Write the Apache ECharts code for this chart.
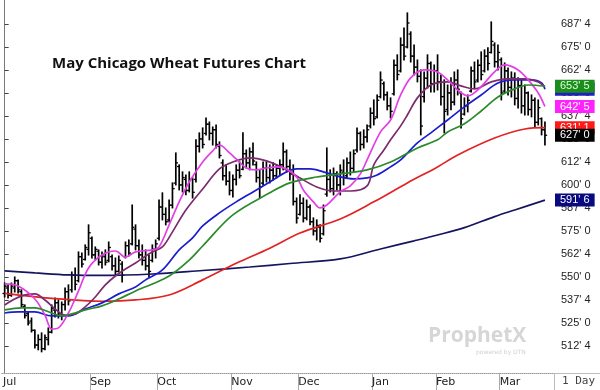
<!DOCTYPE html>
<html><head><meta charset="utf-8">
<script src="https://cdn.jsdelivr.net/npm/echarts@6/dist/echarts.min.js"></script>
<style>html,body{margin:0;padding:0;background:#fff}#c{width:600px;height:390px}</style>
</head><body><div id="c"></div>
<script>
// ---- data ----
const monthNames = ['Jul','Sep','Oct','Nov','Dec','Jan','Feb','Mar'];
const monthStartBar = [0,26,46,68,88,110,129,148];
const yTickValues = [512.5,525,537.5,550,562.5,575,587.5,600,612.5,625,637.5,650,662.5,675,687.5];

const opens  = [541,544,540,544,548,542,534,530,526,521,513,516,511,516,520,532,536,530,535,542,543,551,548,561,559.5,565,571,562,564,558,561,559,561,556,553,557,561,567,568,576,567,562,559,556,559,565,571,588,584,581,589,601,610,600,603,597,603,603,621,625,628,633,628,630,621,612,605,602,597,603,608,608.5,617,612,618,611,604,601,609,604,608,605,609,611,618,610,606,591,584,590,582,588,580,575,577,573.5,595,603,598,606,600,607,605,612,609,619,628,622,626,632,639,637,648,655,649,643,649.5,665,662,676,675,682,670,664,659,648,658,666,655,662,656,648,641,650,645,657,650,638.5,643,651,662,657,665,662,670,672,676,667,668,651,662,653,658,647,654,643,650,641,646,634,636,630];
const highs  = [546.7,545.7,546.7,550,548.4,543,534.8,531,527.7,521.2,518.5,519.6,518.5,522.3,534.8,538.6,537.5,536.4,544,545.7,552.7,554.9,563.6,563,567.4,578.3,571.7,566.3,564.7,563.6,564.7,569,561.9,560.3,561.4,558.2,569,570.1,589.1,578.3,570.1,567.4,564.7,561.9,567.4,570.1,591.8,595.7,587.5,591.8,601.1,617.4,610.9,607.1,605.4,607.1,603.8,624.5,628.3,631,636.4,634.2,631.5,632.6,623.4,613.6,610.9,607.1,605.4,610.9,612.5,628.3,619,620.1,622.8,612.5,608.2,612.5,612.5,610.9,612,610.9,613.6,622.8,619,613.6,610.9,592.9,594.6,592.9,591.8,589.1,582.1,581,578.3,589.1,620.1,608.2,609.2,607.1,610.9,613.6,614.7,617.9,619,631,628.8,629.9,632.6,641.8,646.2,648.9,661.4,656,650.5,647.3,667.9,670.7,679.9,685.3,693.5,683.2,676.1,667.9,662.5,661.4,670.7,666.8,665.2,670.7,659.8,657.1,654.3,658.2,661.4,662.5,650.5,647.3,648.9,664.1,666.8,667.9,672.3,673.4,674.5,688.6,677.2,676.1,669,666.3,663.6,661.4,660.9,658.2,657.1,654.3,650.5,648.9,647.3,646.2,636.4,634.2];
const lows   = [539.1,538.6,539.5,541.8,541.3,533.7,527.7,523.9,520.1,511.4,510.4,509.3,510.4,513.1,519.6,528.3,527.7,526.7,532.1,534.8,541.8,543,547.3,555.4,559.2,561.9,560.3,559.2,556.5,554.9,556.5,558.2,553.8,551.1,552.7,547.3,560.3,561.4,567.4,564.7,560.3,556.5,553.8,550,558.2,560.3,570.1,581,578.3,579.9,587.5,600,597.3,596.2,594.6,596.2,592.9,601.6,617.9,620.1,627.2,624.5,621.7,620.1,614.7,602.7,600,594.6,593.5,600,603.8,608.2,609.2,608.2,610.9,601.6,592.9,600,601.6,601.1,602.7,603.8,605.4,608.2,607.1,602.7,589.1,579.3,583.7,579.9,581,578.3,572.8,570.1,569,572.8,593.9,596.2,594.6,597.3,594.6,600,603.8,605.4,607.1,617.9,619,620.1,623.4,631,632.6,636.4,647.3,646.2,640.8,636.4,648.9,657.1,661.4,667.9,674.5,666.8,659.8,656,627.2,645.1,652.7,650.5,650.5,651.6,643.5,628.3,638,640.8,643.5,648.9,631,638,639.7,650.5,652.7,656,657.1,661.4,662.5,671.7,664.1,662.5,646.2,650,648.9,647.8,643.5,641.8,639.1,638,638,637,631.5,632.6,627.2,621.7];
const closes = [545,540,545,548,543,535,529,525,521,513,516,511,517,520,533,536,530,535,542,537,551,546,561,557,566,574,562,565,558,562,558,566,556,553,559,551,567,563,577,567,562,559,556,553,565,568,588,584,580,589,598,612,600,604,597,603,596,621,625,622,633,628,630,622,616,605,602,597,603,608,605,617,612,618,613,604,599,609,604,608,605,609,611,618,610,606,591,582,590,582,588,580,575,578,571,586,603,598,606,600,608,604,612,609,617,628,622,626,630,639,636,646,657,649,643,640,665,660,676,670,688,670,664,659,632,658,666,655,662,656,648,640,650,645,657,652,636,643,646,662,656,665,660,670,666,678,667,672,650,662,653,658,647,654,643,650,641,646,634,642,630,627];

// moving averages, sampled as [bar index, value]
const maShort  = [[0,546.2],[4,545.1],[9,538.0],[12,529.3],[14,521.7],[16,522.3],[19,530.4],[22,542.4],[25,554.9],[29,561.9],[33,564.1],[36,560.8],[39,563.6],[44,564.7],[46,566.3],[49,578.3],[52,590.8],[55,601.6],[59,612.5],[62,618.5],[64,621.7],[67,617.4],[69,614.1],[72,609.2],[75,608.2],[78,609.2],[81,609.8],[84,608.7],[87,604.3],[89,597.3],[92,590.8],[94,587.5],[96,589.1],[100,596.2],[103,599.5],[106,606.0],[108,613.6],[112,628.8],[115,635.3],[118,648.9],[121,658.2],[125,662.5],[129,661.4],[132,657.1],[135,651.6],[138,648.4],[141,651.6],[146,661.4],[149,665.2],[153,662.5],[156,657.1],[159,650.0],[161,642.625]];
const maMid    = [[0,534.8],[5,539.7],[9,540.8],[12,537.5],[15,532.6],[18,529.3],[21,529.9],[24,533.7],[27,539.1],[30,545.7],[33,550.5],[36,554.3],[39,557.6],[42,561.4],[44,563.6],[47,566.3],[50,574.5],[54,586.4],[59,597.8],[64,608.7],[68,612.5],[73,614.7],[78,613.1],[83,609.2],[88,603.8],[93,598.9],[98,596.7],[103,596.7],[108,599.5],[110,610.9],[113,619.0],[115,624.5],[118,632.1],[120,638.0],[123,647.3],[127,654.3],[132,656.0],[136,653.8],[140,652.2],[145,656.0],[150,657.6],[155,657.6],[159,656.0],[161,653.3]];
const maBlue   = [[0,530.4],[4,531.0],[9,531.0],[14,528.8],[19,528.8],[24,532.6],[29,535.9],[34,540.8],[39,544.6],[42,548.4],[47,553.8],[52,564.7],[56,571.2],[59,577.7],[64,584.8],[69,590.8],[74,596.2],[79,601.6],[84,607.1],[87,608.7],[91,608.7],[95,607.1],[100,604.4],[104,603.3],[108,603.8],[111,605.4],[115,609.8],[118,613.6],[123,622.8],[127,628.3],[132,635.3],[137,642.4],[142,648.9],[147,655.4],[152,657.1],[157,657.1],[160,655.4],[161,652.0]];
const maGreen  = [[0,532.1],[5,533.2],[9,533.2],[14,530.4],[17,528.8],[20,529.9],[24,532.1],[29,534.3],[34,538.0],[39,542.4],[44,546.2],[49,550.5],[55,559.2],[59,566.8],[68,583.7],[79,595.7],[85,601.1],[93,604.3],[100,606.0],[108,608.2],[115,612.5],[123,620.1],[129,624.5],[132,628.8],[137,633.2],[142,640.2],[147,647.8],[152,652.2],[156,654.3],[161,653.625]];
const maRed    = [[0,541.1],[14,538.4],[29,536.8],[39,537.5],[49,540.2],[59,548.4],[69,557.4],[79,565.6],[88,573.9],[100,581.5],[110,590.8],[120,601.1],[129,609.8],[135,616.3],[146,625.5],[155,630.4],[161,631.125]];
const maNavy   = [[0,553.3],[9,552.2],[19,551.1],[29,550.8],[44,551.6],[59,553.5],[73,555.4],[85,557.3],[100,559.8],[112,565.2],[122,569.6],[129,572.8],[137,576.8],[146,582.8],[152,586.4],[161,591.75]];

// ---- chart ----
function fmt(v){const f=Math.floor(v+1e-9);return f+"' "+Math.round((v-f)*8);}
const ohlc = opens.map((o,k)=>[k,o,highs[k],lows[k],closes[k]]);
const boundaryTicks = monthStartBar.slice(1).map(b=>b-0.5);
const labelPos = monthStartBar.map(b=>b-0.5);

function lastVal(a){return a[a.length-1][1];}
function endLabel(val,bg,fg,z){
  return {silent:true,symbol:['none','none'],animation:false,z:z,
    lineStyle:{color:'rgba(0,0,0,0)',width:1,type:'solid'},
    label:{show:true,position:'end',distance:1,formatter:()=>fmt(val),opacity:1,
      backgroundColor:bg,color:fg,padding:[1,5,0,5],fontSize:11,
      fontFamily:'Liberation Sans, Arial, sans-serif',lineHeight:12},
    emphasis:{disabled:true},
    data:[{yAxis:val}]};
}
function lineSeries(name,data,color,bg,fg,z){
  const s={name,type:'line',data,smooth:0.35,symbol:'none',z:z,
    lineStyle:{color,width:1.7},itemStyle:{color},animation:false};
  if(bg) s.markLine=endLabel(lastVal(data),bg,fg,z+10);
  return s;
}

const chart = echarts.init(document.getElementById('c'),null,{renderer:'canvas'});
chart.setOption({
  animation:false,
  backgroundColor:'#ffffff',
  title:{text:'May Chicago Wheat Futures Chart',left:47,top:51,
    textStyle:{fontFamily:'Open Sans, sans-serif',fontWeight:'bold',fontSize:15,color:'#111'}},
  grid:{left:0,right:46,top:0,bottom:17},
  xAxis:{type:'value',min:-0.83,max:163.7,
    axisLine:{show:true,lineStyle:{color:'#999',type:'dotted',width:1}},
    axisTick:{show:true,customValues:boundaryTicks,length:17,lineStyle:{color:'#aaa'}},
    axisLabel:{show:true,customValues:labelPos,align:'left',margin:4,
      formatter:(v)=>{const k=labelPos.findIndex(p=>Math.abs(p-v)<0.01);return k>=0?monthNames[k]:'';},
      color:'#222',fontSize:11,fontFamily:'DejaVu Sans, sans-serif'},
    splitLine:{show:false}},
  yAxis:{type:'value',position:'right',min:497.8,max:700.5,scale:true,
    axisLine:{show:true,lineStyle:{color:'#777'}},
    axisTick:{show:true,customValues:yTickValues,length:4,lineStyle:{color:'#444'}},
    axisLabel:{show:true,customValues:yTickValues,formatter:fmt,margin:7,
      color:'#222',fontSize:11,fontFamily:'Liberation Sans, Arial, sans-serif'},
    splitLine:{show:false}},
  graphic:[
    {type:'rect',left:554,top:373,shape:{width:46,height:17},style:{fill:'#fff',stroke:'#bbb'}},
    {type:'text',left:562,top:376,style:{text:'1 Day',fill:'#444',font:'11px "DejaVu Sans Mono", monospace'}},
    {type:'text',left:428,top:326,z:0,style:{text:'ProphetX',fill:'#d6d6d6',font:'bold 21px "Open Sans", sans-serif'}},
    {type:'text',left:476,top:349,z:0,style:{text:'powered by DTN',fill:'#d0d0d0',font:'6px "DejaVu Sans", sans-serif'}}
  ],
  series:[
    lineSeries('navy',maNavy,'#15155f','#0a0a80','#ffffff',3),
    lineSeries('red',maRed,'#e32222','#ff1a1a','#ffffff',3),
    lineSeries('blue',maBlue,'#1c1ccf','#2020c0','#ffffff',3),
    lineSeries('green',maGreen,'#2b8a2b','#1c8c1c','#d8ffd8',4),
    lineSeries('purple',maMid,'#7b2b6f',null,null,3),
    lineSeries('magenta',maShort,'#e43fe4','#ff22ff','#ffffff',3),
    {type:'custom',name:'price',data:ohlc,z:2,animation:false,
      encode:{x:0,y:[1,2,3,4]},
      renderItem:function(params,api){
        const i=api.value(0);
        const pH=api.coord([i,api.value(2)]),pL=api.coord([i,api.value(3)]);
        const pO=api.coord([i,api.value(1)]),pC=api.coord([i,api.value(4)]);
        const x=pH[0];
        return {type:'group',children:[
          {type:'line',shape:{x1:x,y1:pH[1]-0.5,x2:x,y2:pL[1]+0.5},style:{stroke:'#000',lineWidth:1.7}},
          {type:'line',shape:{x1:x-2.2,y1:pO[1],x2:x,y2:pO[1]},style:{stroke:'#000',lineWidth:1.3}},
          {type:'line',shape:{x1:x,y1:pC[1],x2:x+2.2,y2:pC[1]},style:{stroke:'#000',lineWidth:1.3}}
        ]};
      },
      markLine:endLabel(closes[closes.length-1],'#000000','#ffffff',20)
    }
  ]
});
</script></body></html>
